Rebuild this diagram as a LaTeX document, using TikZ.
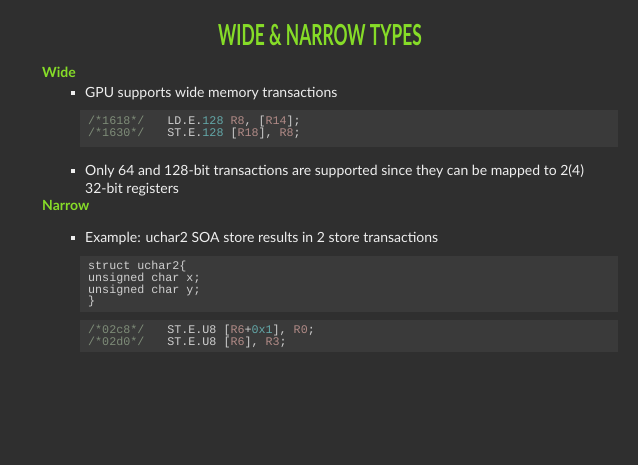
\documentclass[tikz,border=0pt]{standalone}
\usepackage{fontspec}
\setmainfont{Lato}
\setmonofont{Liberation Mono}
\definecolor{bg}{HTML}{2F2F2F}
\definecolor{codebg}{HTML}{3A3A3A}
\definecolor{ttl}{HTML}{86DC28}
\definecolor{txt}{HTML}{EEEEEE}
\definecolor{cm}{HTML}{7E8C78}
\definecolor{nm}{HTML}{63A7A8}
\definecolor{rg}{HTML}{B08A86}
\definecolor{cd}{HTML}{CFCFCF}
\newcommand{\Cm}[1]{\textcolor{cm}{#1}}
\newcommand{\Nm}[1]{\textcolor{nm}{#1}}
\newcommand{\Rg}[1]{\textcolor{rg}{#1}}
\newcommand{\Gap}{\hspace{23pt}}
\begin{document}
\begin{tikzpicture}[x=1pt,y=-1pt,
  body/.style={anchor=base west,inner sep=0pt,text=txt,font=\fontsize{14}{17}\selectfont},
  head/.style={anchor=base west,inner sep=0pt,text=ttl,font=\bfseries\fontsize{14}{17}\selectfont},
  code/.style={anchor=north west,inner sep=0pt,text=cd,font=\ttfamily\fontsize{11.7}{11.7}\selectfont,align=left},
  cbox/.style={fill=codebg,draw=none},
  bul/.style={fill=txt,minimum size=4pt,inner sep=0pt}]
\fill[bg] (0,0) rectangle (638,465);
\useasboundingbox (0,0) rectangle (638,465);
\node[inner sep=0pt,text=ttl] (title) at (320,35) {\scalebox{0.6}[1]{\bfseries\fontsize{29}{32}\selectfont WIDE \& NARROW TYPES}};
\node[head] (wide) at (42,78) {Wide};
\node[bul] (b1) at (72.5,93.5) {};
\node[body] (t1) at (85,98) {GPU supports wide memory transactions};
\fill[cbox] (80,110) rectangle (618,147);
\node[code] (c1) at (88,116) {\Cm{/*1618*/}\Gap LD.E.\Nm{128} \Rg{R8}, [\Rg{R14}];\\\Cm{/*1630*/}\Gap ST.E.\Nm{128} [\Rg{R18}], \Rg{R8};};
\node[bul] (b2) at (72.5,171) {};
\node[body] (t2) at (85,175.5) {Only 64 and 128-bit transactions are supported since they can be mapped to 2(4)};
\node[body] (t2b) at (85,193.5) {32-bit registers};
\node[head] (narrow) at (42,211) {Narrow};
\node[bul] (b3) at (72.5,238) {};
\node[body] (t3) at (85,242.5) {Example: uchar2 SOA store results in 2 store transactions};
\fill[cbox] (80,256) rectangle (618,312);
\node[code] (c2) at (88,261) {struct uchar2\{\\unsigned char x;\\unsigned char y;\\\}};
\fill[cbox] (80,320) rectangle (618,352);
\node[code] (c3) at (88,325) {\Cm{/*02c8*/}\Gap ST.E.U8 [\Rg{R6}+\Nm{0x1}], \Rg{R0};\\\Cm{/*02d0*/}\Gap ST.E.U8 [\Rg{R6}], \Rg{R3};};
\end{tikzpicture}
\end{document}
